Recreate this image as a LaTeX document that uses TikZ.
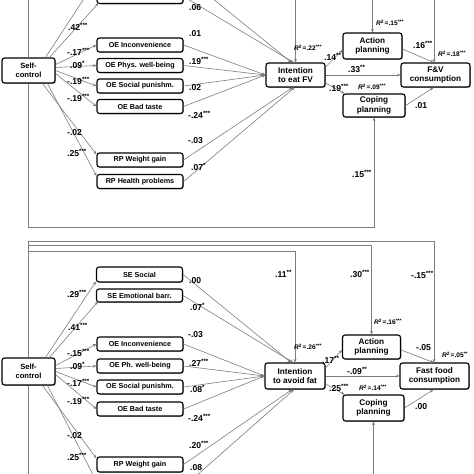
\documentclass[tikz,border=0pt]{standalone}
\usepackage{fontspec}
\setmainfont{Liberation Sans}
\usetikzlibrary{arrows.meta,shadows}
\definecolor{lngray}{RGB}{125,125,125}
\newcommand{\pst}[1]{\raisebox{2.4pt}{\fontsize{6.2}{5}\selectfont #1}}
\newcommand{\rsq}[2]{\textit{R}\raisebox{2.6pt}{\fontsize{4.8}{4}\selectfont 2}\,=#1\raisebox{2pt}{\fontsize{5}{5}\selectfont #2}}
\tikzset{
  box/.style={draw=black, line width=1.1pt, rounded corners=2.5pt, fill=white,
    align=center, inner sep=0pt,
    drop shadow={shadow xshift=0.8pt, shadow yshift=-0.8pt, opacity=0.35, fill=black}},
  sbox/.style={box, minimum width=86pt, minimum height=14pt,
    font=\bfseries\fontsize{7.2}{8}\selectfont},
  mbox/.style={box, font=\bfseries\fontsize{8.2}{9.6}\selectfont},
  scbox/.style={box, minimum width=53pt, font=\bfseries\fontsize{7.6}{9}\selectfont},
  arr/.style={draw=lngray, line width=0.6pt, -{Stealth[length=3.5pt,width=3pt]}},
  cf/.style={font=\bfseries\fontsize{8.6}{9}\selectfont, inner sep=0pt, anchor=west},
  rs/.style={font=\bfseries\fontsize{6.6}{7}\selectfont, inner sep=0pt, anchor=west},
}
\begin{document}
\begin{tikzpicture}[x=1pt,y=-1pt]
\useasboundingbox (0,0) rectangle (474,474);
\clip (0,0) rectangle (474,474);
\fill[white] (0,0) rectangle (474,474);

% ================= TOP PANEL =================
\node[scbox, minimum height=25pt] (sc1) at (28.5,70.5) {Self-\\control};
\node[sbox] (ses1) at (140,-25) {};
\node[sbox] (see1) at (140,-3.5) {};
\node[sbox] (oi1) at (140,45) {OE Inconvenience};
\node[sbox] (op1) at (140,65.5) {OE Phys. well-being};
\node[sbox] (os1) at (140,86) {OE Social punishm.};
\node[sbox] (ob1) at (140,106.5) {OE Bad taste};
\node[sbox] (rw1) at (140,160) {RP Weight gain};
\node[sbox] (rh1) at (140,181.5) {RP Health problems};
\node[mbox, minimum width=59pt, minimum height=24pt] (in1) at (295.5,75) {Intention\\to eat FV};
\node[mbox, minimum width=59pt, minimum height=26pt] (ac1) at (372.5,46) {Action\\planning};
\node[mbox, minimum width=69pt, minimum height=24pt] (fv1) at (435.5,75) {F\&V\\consumption};
\node[mbox, minimum width=62pt, minimum height=23pt] (cp1) at (374,105.5) {Coping\\planning};

\draw[arr] ([xshift=17pt]sc1.north) -- ([yshift=3pt]ses1.south west);
\draw[arr] ([xshift=21pt]sc1.north) -- ([xshift=2pt,yshift=1pt]see1.south west);
\draw[arr] ([yshift=6pt]sc1.east) -- (oi1.west);
\draw[arr] ([yshift=3pt]sc1.east) -- (op1.west);
\draw[arr] (sc1.east) -- (os1.west);
\draw[arr] ([yshift=-3pt]sc1.east) -- (ob1.west);
\draw[arr] ([xshift=14pt]sc1.south) -- ([yshift=-2pt]rw1.north west);
\draw[arr] ([xshift=19pt]sc1.south) -- ([yshift=-2pt]rh1.north west);

\draw[arr] (ses1.east) -- ([xshift=-4pt]in1.north);
\draw[arr] (see1.east) -- ([xshift=-2pt]in1.north);
\draw[arr] (oi1.east) -- (in1.west);
\draw[arr] (op1.east) -- (in1.west);
\draw[arr] (os1.east) -- (in1.west);
\draw[arr] (ob1.east) -- (in1.west);
\draw[arr] (rw1.east) -- ([xshift=-3pt]in1.south);
\draw[arr] (rh1.east) -- ([xshift=-1pt]in1.south);

\draw[arr] (sc1.north) -- (28.5,-60) -| ([xshift=-1.5pt]fv1.north);
\draw[arr] (sc1.north) -- (28.5,-54) -| (ac1.north);
\draw[arr] (sc1.north) -- (28.5,-50) -| (in1.north);
\draw[arr] (sc1.south) -- (28.5,227) -| (cp1.south);

\draw[arr] ([yshift=8pt]in1.east) -- ([yshift=-4pt]ac1.west);
\draw[arr] (in1.east) -- (fv1.west);
\draw[arr] ([yshift=-8pt]in1.east) -- ([xshift=2pt]cp1.north west);
\draw[arr] ([yshift=-3pt]ac1.east) -- ([xshift=-2pt]fv1.north);
\draw[arr] (cp1.east) -- ([xshift=-2pt]fv1.south);

\node[cf] at (68,27) {.42\pst{***}};
\node[cf] at (67,52) {-.17\pst{***}};
\node[cf] at (70,65) {.09\pst{*}};
\node[cf] at (67,81) {-.19\pst{***}};
\node[cf] at (67,98) {-.19\pst{***}};
\node[cf] at (67,133) {-.02};
\node[cf] at (67,153) {.25\pst{***}};
\node[cf] at (189,8) {.06};
\node[cf] at (189,34) {.01};
\node[cf] at (189,61) {.19\pst{***}};
\node[cf] at (189,88) {.02};
\node[cf] at (188,115) {-.24\pst{***}};
\node[cf] at (188,141) {-.03};
\node[cf] at (191,167) {.07\pst{*}};
\node[rs] at (376,23) {\rsq{.15}{***}};
\node[rs] at (294,48) {\rsq{.22}{***}};
\node[cf] at (324,57) {.14\pst{**}};
\node[cf] at (413,45) {.16\pst{***}};
\node[rs] at (438,54) {\rsq{.18}{***}};
\node[cf] at (348,69) {.33\pst{**}};
\node[cf] at (329,88) {.19\pst{***}};
\node[rs] at (358,87) {\rsq{.09}{***}};
\node[cf] at (415,106) {.01};
\node[cf] at (352,174) {.15\pst{***}};

% ================= BOTTOM PANEL =================
\node[scbox, minimum height=27pt] (sc2) at (28.5,371.5) {Self-\\control};
\node[sbox, minimum height=15pt] (ses2) at (139.5,274.5) {SE Social};
\node[sbox, minimum height=13pt] (see2) at (139.5,295.5) {SE Emotional barr.};
\node[sbox] (oi2) at (140,344) {OE Inconvenience};
\node[sbox] (op2) at (140,366) {OE Ph. well-being};
\node[sbox] (os2) at (140,387) {OE Social punishm.};
\node[sbox] (ob2) at (140,409) {OE Bad taste};
\node[sbox, minimum height=15pt] (rw2) at (140,464.5) {RP Weight gain};
\node[sbox] (rh2) at (140,487) {};
\node[mbox, minimum width=60pt, minimum height=26pt] (in2) at (295,376) {Intention\\to avoid fat};
\node[mbox, minimum width=58pt, minimum height=24pt] (ac2) at (371.5,347) {Action\\planning};
\node[mbox, minimum width=69pt, minimum height=26pt] (ff2) at (434.5,376) {Fast food\\consumption};
\node[mbox, minimum width=61pt, minimum height=26pt] (cp2) at (373.5,408) {Coping\\planning};

\draw[arr] ([xshift=17pt]sc2.north) -- ([yshift=1pt]ses2.south west);
\draw[arr] ([xshift=21pt]sc2.north) -- ([xshift=2pt,yshift=1pt]see2.south west);
\draw[arr] ([yshift=6pt]sc2.east) -- (oi2.west);
\draw[arr] ([yshift=3pt]sc2.east) -- (op2.west);
\draw[arr] (sc2.east) -- (os2.west);
\draw[arr] ([yshift=-3pt]sc2.east) -- (ob2.west);
\draw[arr] ([xshift=14pt]sc2.south) -- ([yshift=-2pt]rw2.north west);
\draw[arr] ([xshift=19pt]sc2.south) -- ([yshift=-2pt]rh2.north west);

\draw[arr] (ses2.east) -- ([xshift=-4pt]in2.north);
\draw[arr] (see2.east) -- ([xshift=-2pt]in2.north);
\draw[arr] (oi2.east) -- (in2.west);
\draw[arr] (op2.east) -- (in2.west);
\draw[arr] (os2.east) -- (in2.west);
\draw[arr] (ob2.east) -- (in2.west);
\draw[arr] (rw2.east) -- ([xshift=-3pt]in2.south);
\draw[arr] (rh2.east) -- ([xshift=-1pt]in2.south);

\draw[arr] (sc2.north) -- (28.5,241) -| ([xshift=-0.5pt]ff2.north);
\draw[arr] (sc2.north) -- (28.5,245) -| (ac2.north);
\draw[arr] (sc2.north) -- (28.5,251) -| (in2.north);
\draw[arr] (sc2.south) -- (28.5,530) -| (cp2.south);

\draw[arr] ([yshift=8pt]in2.east) -- ([yshift=-3pt]ac2.west);
\draw[arr] (in2.east) -- (ff2.west);
\draw[arr] ([yshift=-8pt]in2.east) -- ([xshift=2pt]cp2.north west);
\draw[arr] ([yshift=-3pt]ac2.east) -- ([xshift=-1pt]ff2.north);
\draw[arr] (cp2.east) -- ([xshift=-1pt]ff2.south);

\node[cf] at (67,294) {.29\pst{***}};
\node[cf] at (68,327) {.41\pst{***}};
\node[cf] at (67,353) {-.15\pst{***}};
\node[cf] at (70,366) {.09\pst{*}};
\node[cf] at (67,383) {-.17\pst{***}};
\node[cf] at (67,401) {-.19\pst{***}};
\node[cf] at (67,436) {-.02};
\node[cf] at (67,457) {.25\pst{***}};
\node[cf] at (189,281) {.00};
\node[cf] at (190,307) {.07\pst{*}};
\node[cf] at (188,335) {-.03};
\node[cf] at (189,363) {.27\pst{***}};
\node[cf] at (190,389) {.08\pst{*}};
\node[cf] at (188,418) {-.24\pst{***}};
\node[cf] at (189,445) {.20\pst{***}};
\node[cf] at (190,468) {.08};
\node[cf] at (275,274) {.11\pst{**}};
\node[cf] at (350,274) {.30\pst{***}};
\node[cf] at (411,275) {-.15\pst{***}};
\node[rs] at (374,322) {\rsq{.16}{***}};
\node[rs] at (294,347) {\rsq{.26}{***}};
\node[cf] at (416,348) {-.05};
\node[rs] at (442,355) {\rsq{.05}{**}};
\node[cf] at (322,360) {.17\pst{**}};
\node[cf] at (347,371) {-.09\pst{**}};
\node[cf] at (329,388) {.25\pst{***}};
\node[rs] at (359,388) {\rsq{.14}{***}};
\node[cf] at (415,407) {.00};
\end{tikzpicture}
\end{document}
